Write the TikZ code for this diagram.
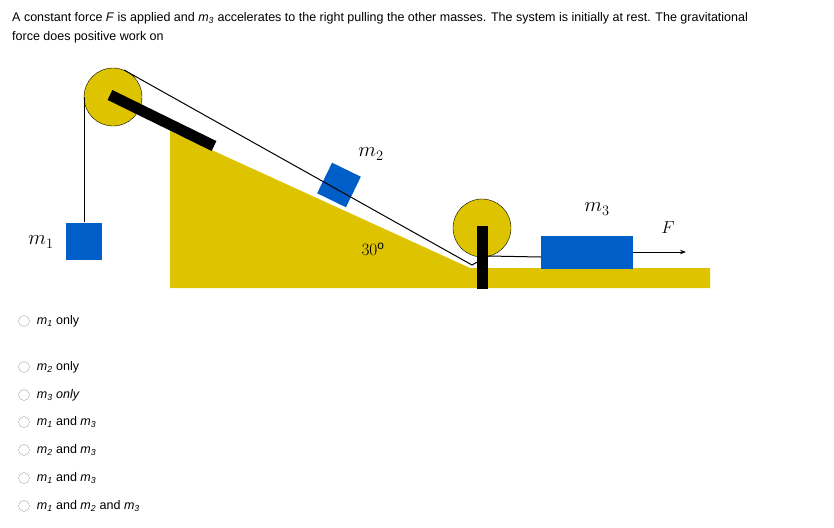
\documentclass[tikz,border=0pt]{standalone}
\usepackage{fontspec}
\setmainfont{Liberation Sans}
\usetikzlibrary{arrows.meta,positioning}
\definecolor{ramp}{RGB}{222,196,0}
\definecolor{mass}{RGB}{0,94,200}
\newcommand{\optm}[1]{\textit{m}\textsubscript{\textit{#1}}}

\begin{document}
\begin{tikzpicture}[
  x=1pt, y=-1pt,
  font=\fontsize{12.5}{15}\selectfont,
  % Node Styles
  massbox/.style={fill=mass, draw=none, inner sep=0pt},
  pulley/.style={circle, draw=black, fill=ramp, minimum size=58pt, inner sep=0pt},
  radio/.style={circle, draw=gray!70, minimum size=11pt, inner sep=0pt},
  opt/.style={anchor=west, inner sep=0pt},
  mlbl/.style={font=\fontsize{20}{22}\selectfont},
  % Line Styles
  rope/.style={black, line width=1pt},
  post/.style={black, line width=11pt}
]
\useasboundingbox (0,0) rectangle (834,527);

% ================= TEXT =================
\node[opt, anchor=north west] (q) at (12,12) {A constant force \textit{F} is applied and \optm{3} accelerates to the right pulling the other masses. The system is initially at rest. The gravitational};
\node[opt, anchor=north west] (q2) at (12,31) {force does positive work on};

% ================= GROUND =================
\fill[ramp] (170,131) -- (470,268) -- (710,268) -- (710,288) -- (170,288) -- cycle;

% ================= NODES =================
\node[pulley] (p1) at (113,97) {};
\node[pulley] (p2) at (482,228) {};
\draw[post] (110,95) -- (214,146);
\draw[post] (482,226) -- (482,289);

\node[massbox, minimum width=36pt, minimum height=37pt] (m1) at (84,241) {};
\node[massbox, minimum width=32pt, minimum height=34pt, rotate=-26] (m2) at (339,185) {};
\node[massbox, minimum width=92pt, minimum height=33pt] (m3) at (587,252) {};

\coordinate (p1top) at (124,70);
\coordinate (p1left) at (84,97);
\coordinate (p2low) at (472,265);
\coordinate (p2out) at (488,256);
\coordinate (ftip) at (686,252);

% ================= CONNECTIONS =================
\draw[rope] (p1left) -- (m1.north);
\draw[rope] (p1top) -- (p2low) -- (p2out) -- (m3.west |- 0,257);
\draw[rope, -{Stealth[length=6pt]}] (m3.east) -- (ftip);

% ================= LABELS =================
\node[mlbl] (l1) at (41,242) {$m_1$};
\node[mlbl] (l2) at (371,154) {$m_2$};
\node[mlbl] (l3) at (597,209) {$m_3$};
\node[font=\fontsize{17}{19}\selectfont] (lF) at (668,228) {$F$};
\node[font=\fontsize{17}{19}\selectfont] (la) at (373,249) {$30^{\mathrm{o}}$};

% ================= OPTIONS =================
\foreach \y/\t [count=\i] in {321/{\optm{1} only}, 367/{\optm{2} only}, 395/{\optm{3} \textit{only}},
  422/{\optm{1} and \optm{3}}, 450/{\optm{2} and \optm{3}}, 478/{\optm{1} and \optm{3}},
  506/{\optm{1} and \optm{2} and \optm{3}}}{
  \node[radio] (r\i) at (24,\y) {};
  \node[opt, right=7pt of r\i] (o\i) {\t};
}
\end{tikzpicture}
\end{document}
